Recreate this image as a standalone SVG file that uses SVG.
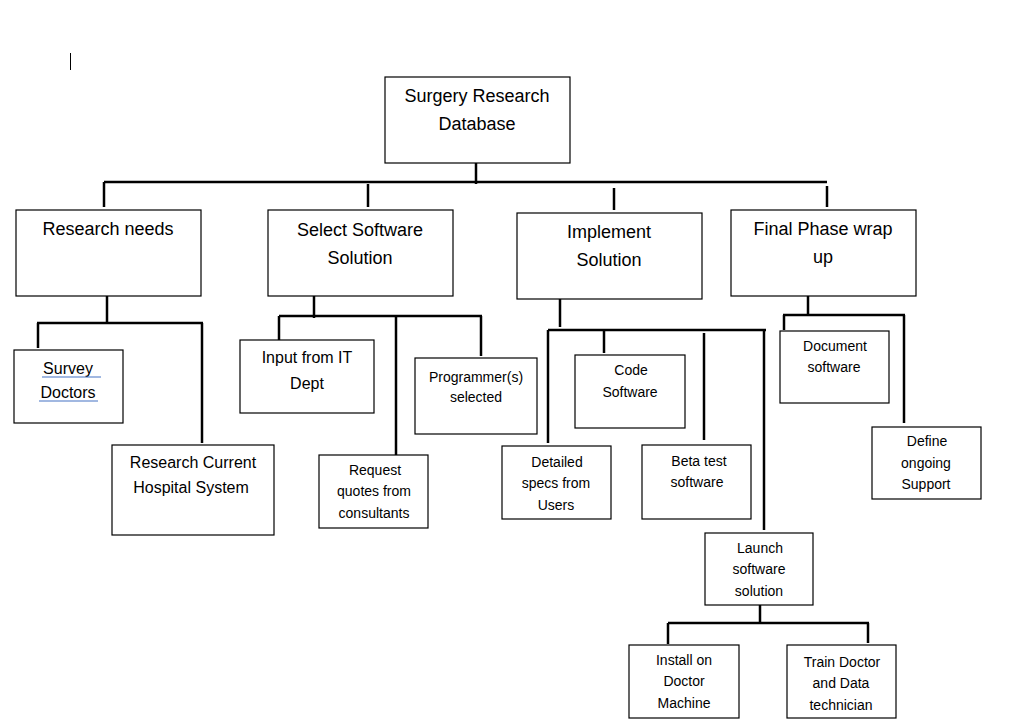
<svg xmlns="http://www.w3.org/2000/svg" width="1009" height="722" viewBox="0 0 1009 722">
<style>
.b{fill:#fff;stroke:#000;stroke-width:1.2}
.c line{stroke:#000;stroke-width:2.5}
text{font-family:"Liberation Sans",Arial,sans-serif;fill:#000;text-anchor:middle}
.l{font-size:18px}.m{font-size:16px}.s{font-size:14px}
</style>
<rect width="1009" height="722" fill="#fff"/>
<line x1="70.5" y1="53" x2="70.5" y2="70" stroke="#000" stroke-width="1"/>
<g class="c">
<line x1="476" y1="163" x2="476" y2="184"/><line x1="104" y1="182" x2="827" y2="182"/>
<line x1="104" y1="182" x2="104" y2="207"/><line x1="368" y1="184" x2="368" y2="207"/>
<line x1="614" y1="188" x2="614" y2="210"/><line x1="827" y1="186" x2="827" y2="207"/>
<line x1="107" y1="296" x2="107" y2="324"/><line x1="37" y1="323" x2="203" y2="323"/>
<line x1="38" y1="323" x2="38" y2="348"/><line x1="202" y1="323" x2="202" y2="443"/>
<line x1="314" y1="296" x2="314" y2="318"/><line x1="279" y1="316" x2="482" y2="316"/>
<line x1="279" y1="316" x2="279" y2="340"/><line x1="396" y1="316" x2="396" y2="455"/><line x1="481" y1="316" x2="481" y2="356"/>
<line x1="560" y1="299" x2="560" y2="327"/><line x1="548" y1="330" x2="766" y2="330"/>
<line x1="548" y1="330" x2="548" y2="443"/><line x1="604" y1="330" x2="604" y2="353"/>
<line x1="704" y1="333" x2="704" y2="440"/><line x1="764" y1="330" x2="764" y2="530"/>
<line x1="760" y1="605" x2="760" y2="623"/><line x1="668" y1="623" x2="869" y2="623"/>
<line x1="668" y1="623" x2="668" y2="644"/><line x1="868" y1="623" x2="868" y2="643"/>
<line x1="808" y1="296" x2="808" y2="315"/><line x1="783" y1="315" x2="905" y2="315"/>
<line x1="784" y1="315" x2="784" y2="330"/><line x1="904" y1="315" x2="904" y2="423"/>
</g>
<g id="root"><rect class="b" x="385" y="77" width="185" height="86"/><text class="l" x="477" y="102">Surgery Research</text><text class="l" x="477" y="130">Database</text></g>
<g id="research"><rect class="b" x="16" y="210" width="185" height="86"/><text class="l" x="108" y="235">Research needs</text></g>
<g id="select"><rect class="b" x="268" y="210" width="185" height="86"/><text class="l" x="360" y="236">Select Software</text><text class="l" x="360" y="264">Solution</text></g>
<g id="implement"><rect class="b" x="517" y="213" width="185" height="86"/><text class="l" x="609" y="238">Implement</text><text class="l" x="609" y="266">Solution</text></g>
<g id="final"><rect class="b" x="731" y="210" width="185" height="86"/><text class="l" x="823" y="235">Final Phase wrap</text><text class="l" x="823" y="263">up</text></g>
<g id="survey"><rect class="b" x="14" y="350" width="109" height="73"/><text class="m" x="68" y="374">Survey</text><text class="m" x="68" y="398">Doctors</text><line x1="42" y1="377" x2="101" y2="377" stroke="#4472c4" stroke-width="1.2"/><line x1="39" y1="401" x2="98" y2="401" stroke="#4472c4" stroke-width="1.2"/></g>
<g id="hospital"><rect class="b" x="112" y="445" width="162" height="90"/><text class="m" x="193" y="468">Research Current</text><text class="m" x="191" y="493">Hospital System</text></g>
<g id="it"><rect class="b" x="240" y="340" width="134" height="73"/><text class="m" x="307" y="363">Input from IT</text><text class="m" x="307" y="389">Dept</text></g>
<g id="quotes"><rect class="b" x="319" y="455" width="109" height="73"/><text class="s" x="375" y="475">Request</text><text class="s" x="374" y="496">quotes from</text><text class="s" x="374" y="518">consultants</text></g>
<g id="prog"><rect class="b" x="415" y="358" width="122" height="76"/><text class="s" x="476" y="382">Programmer(s)</text><text class="s" x="476" y="402">selected</text></g>
<g id="code"><rect class="b" x="575" y="355" width="110" height="73"/><text class="s" x="631" y="375">Code</text><text class="s" x="630" y="397">Software</text></g>
<g id="specs"><rect class="b" x="502" y="446" width="109" height="73"/><text class="s" x="557" y="467">Detailed</text><text class="s" x="556" y="488">specs from</text><text class="s" x="556" y="510">Users</text></g>
<g id="beta"><rect class="b" x="642" y="445" width="109" height="74"/><text class="s" x="699" y="466">Beta test</text><text class="s" x="697" y="487">software</text></g>
<g id="launch"><rect class="b" x="705" y="533" width="108" height="72"/><text class="s" x="760" y="553">Launch</text><text class="s" x="759" y="574">software</text><text class="s" x="759" y="596">solution</text></g>
<g id="install"><rect class="b" x="629" y="645" width="110" height="73"/><text class="s" x="684" y="665">Install on</text><text class="s" x="684" y="686">Doctor</text><text class="s" x="684" y="708">Machine</text></g>
<g id="train"><rect class="b" x="787" y="645" width="109" height="73"/><text class="s" x="842" y="667">Train Doctor</text><text class="s" x="841" y="688">and Data</text><text class="s" x="841" y="710">technician</text></g>
<g id="doc"><rect class="b" x="780" y="331" width="109" height="72"/><text class="s" x="835" y="351">Document</text><text class="s" x="834" y="372">software</text></g>
<g id="support"><rect class="b" x="872" y="427" width="109" height="72"/><text class="s" x="927" y="446">Define</text><text class="s" x="926" y="468">ongoing</text><text class="s" x="926" y="489">Support</text></g>
</svg>
